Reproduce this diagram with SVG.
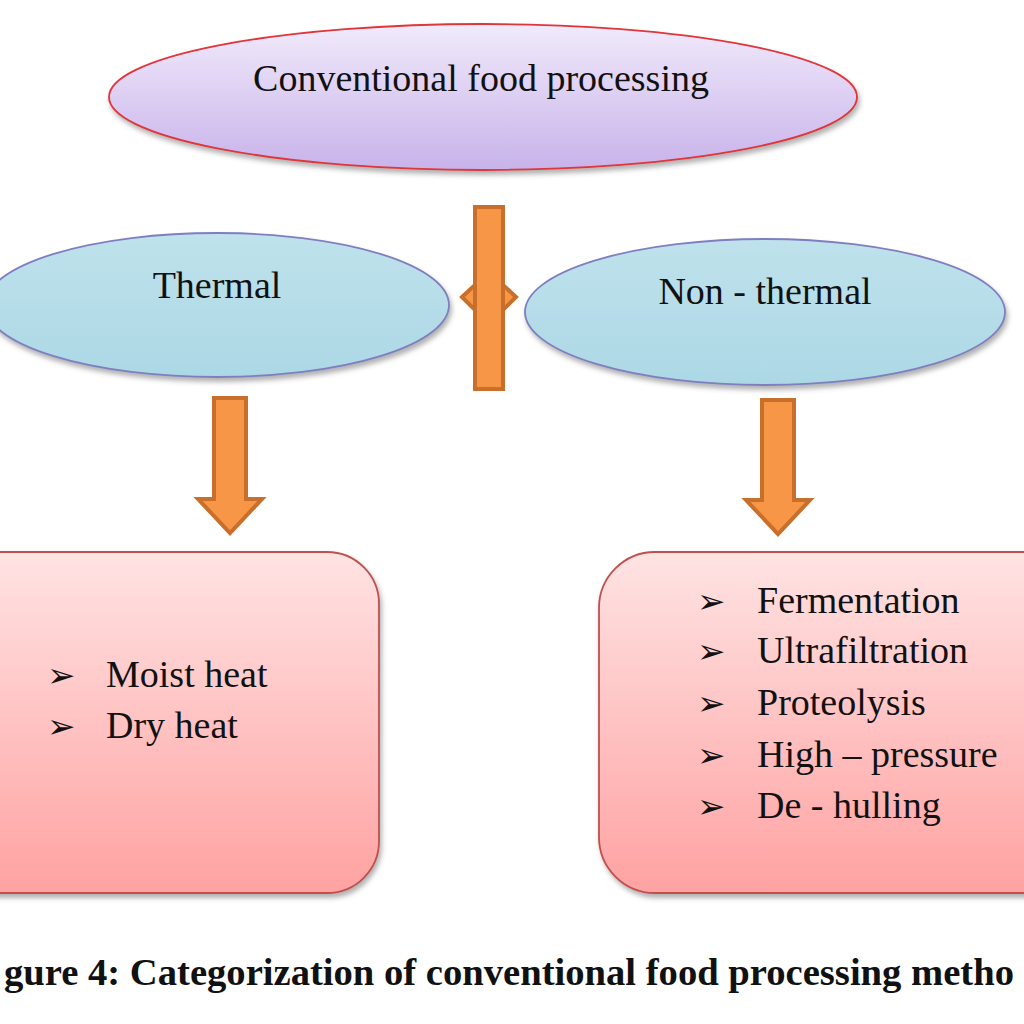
<svg xmlns="http://www.w3.org/2000/svg" width="1024" height="1024" viewBox="0 0 1024 1024">
<style>
.lbl{font-family:"Liberation Serif","Times New Roman",serif;font-size:38px;fill:#111}
.bul{font-family:"DejaVu Sans",sans-serif;font-size:34px;fill:#111}
.arr{fill:#f79646;stroke:#c86f2b;stroke-width:4;stroke-linejoin:miter}
.cap{font-family:"Liberation Serif","Times New Roman",serif;font-size:37px;font-weight:bold;fill:#111}
</style>
<defs>
<linearGradient id="gTop" x1="0" y1="0" x2="0" y2="1"><stop offset="0" stop-color="#f1eafb"/><stop offset="1" stop-color="#c8b3ea"/></linearGradient>
<linearGradient id="gBlue" x1="0" y1="0" x2="0" y2="1"><stop offset="0" stop-color="#bfe2ec"/><stop offset="1" stop-color="#acd8e5"/></linearGradient>
<linearGradient id="gBox" x1="0" y1="0" x2="0" y2="1"><stop offset="0" stop-color="#ffe3e3"/><stop offset="1" stop-color="#ffa2a2"/></linearGradient>
<filter id="sh" x="-10%" y="-10%" width="120%" height="130%"><feDropShadow dx="2" dy="4" stdDeviation="2.5" flood-color="#555" flood-opacity="0.45"/></filter>
</defs>
<rect width="1024" height="1024" fill="#fff"/>
<g id="node-top">
<ellipse cx="483" cy="97" rx="374" ry="73" fill="url(#gTop)" stroke="#e0343a" stroke-width="1.8" filter="url(#sh)"/>
<text class="lbl" x="481" y="91" text-anchor="middle">Conventional food processing</text>
</g>
<g id="node-thermal">
<ellipse cx="217" cy="305" rx="232" ry="72" fill="url(#gBlue)" stroke="#7f7fc0" stroke-width="1.8" filter="url(#sh)"/>
<text class="lbl" x="217" y="298" text-anchor="middle">Thermal</text>
</g>
<g id="node-nonthermal">
<ellipse cx="765" cy="312" rx="240" ry="73" fill="url(#gBlue)" stroke="#7f7fc0" stroke-width="1.8" filter="url(#sh)"/>
<text class="lbl" x="765" y="304" text-anchor="middle">Non - thermal</text>
</g>
<g id="connectors">
<polygon class="arr" points="462,297 476,284 476,291 502,291 502,284 516,297 502,311 502,303 476,303 476,311"/>
<rect class="arr" x="475" y="207" width="28" height="182"/>
<polygon class="arr" points="214,398 246,398 246,499 262,499 230,533 198,499 214,499"/>
<polygon class="arr" points="762,400 794,400 794,500 810,500 778,534 746,500 762,500"/>
</g>
<g id="node-thermal-list">
<rect x="-60" y="552" width="439" height="341" rx="52" ry="52" fill="url(#gBox)" stroke="#c0504d" stroke-width="1.8" filter="url(#sh)"/>
<text class="bul" x="47" y="687">➢</text>
<text class="lbl" x="106" y="687">Moist heat</text>
<text class="bul" x="47" y="738">➢</text>
<text class="lbl" x="106" y="738">Dry heat</text>
</g>
<g id="node-nonthermal-list">
<rect x="599" y="552" width="480" height="341" rx="56" ry="56" fill="url(#gBox)" stroke="#c0504d" stroke-width="1.8" filter="url(#sh)"/>
<text class="bul" x="697" y="613">➢</text>
<text class="lbl" x="757" y="613">Fermentation</text>
<text class="bul" x="697" y="663">➢</text>
<text class="lbl" x="757" y="663">Ultrafiltration</text>
<text class="bul" x="697" y="715">➢</text>
<text class="lbl" x="757" y="715">Proteolysis</text>
<text class="bul" x="697" y="767">➢</text>
<text class="lbl" x="757" y="767">High – pressure</text>
<text class="bul" x="697" y="818">➢</text>
<text class="lbl" x="757" y="818">De - hulling</text>
</g>
<text class="cap" x="4" y="985" textLength="1010" lengthAdjust="spacingAndGlyphs">gure 4: Categorization of conventional food processing metho</text>
</svg>
